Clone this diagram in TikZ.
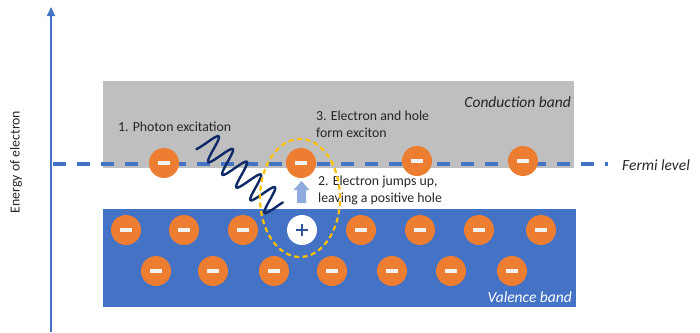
\documentclass[tikz,border=0pt]{standalone}
\usepackage{fontspec}
\setmainfont{Carlito}
\usetikzlibrary{arrows.meta,shapes.geometric}
\definecolor{axisblue}{HTML}{4472C4}
\definecolor{bandgrey}{HTML}{BFBFBF}
\definecolor{eorange}{HTML}{ED7D31}
\definecolor{barcol}{HTML}{F2F2F2}
\definecolor{plusblue}{HTML}{2F5597}
\definecolor{exyellow}{HTML}{FFC000}
\definecolor{arrowblue}{HTML}{8FAADC}
\definecolor{navywave}{HTML}{0E2A66}
\definecolor{txtcol}{HTML}{262626}
\begin{document}
\begin{tikzpicture}[x=1pt,y=-1pt,
  txt/.style={font=\fontsize{13.8}{17}\selectfont, text=txtcol, inner sep=0pt},
  itxt/.style={font=\fontsize{15.5}{17}\selectfont\itshape, text=txtcol, inner sep=0pt},
  band/.style={draw=none, inner sep=0pt, anchor=north west},
  elec/.style={circle, fill=eorange, minimum size=30pt, inner sep=0pt,
    path picture={\fill[barcol] ([xshift=-6pt,yshift=-2pt]path picture bounding box.center) rectangle ([xshift=6pt,yshift=2pt]path picture bounding box.center);}},
  hole/.style={circle, fill=white, minimum size=30pt, inner sep=0pt,
    path picture={\draw[plusblue, line width=1.6pt] ([xshift=-6pt]path picture bounding box.center) -- ([xshift=6pt]path picture bounding box.center)
      ([yshift=-6pt]path picture bounding box.center) -- ([yshift=6pt]path picture bounding box.center);}}
]
\useasboundingbox (0,0) rectangle (700,332);

% bands
\node[band, fill=bandgrey, minimum width=471pt, minimum height=87pt] (cb) at (103,81) {};
\node[band, fill=axisblue, minimum width=473pt, minimum height=98pt] (vb) at (103,209) {};

% axis
\coordinate (axbot) at (51,332);
\coordinate (axtop) at (51,7);
\draw[axisblue, line width=2pt, -{Triangle[length=9pt,width=8pt]}] (axbot) -- (axtop);

% Fermi level
\coordinate (fs) at (53,164);
\coordinate (fe) at (608,164);
\draw[axisblue, line width=3.5pt, dash pattern=on 13pt off 11pt] (fs) -- (fe);

% labels
\node[txt, rotate=90] (ylab) at (16,162) {Energy of electron};
\node[itxt, anchor=west] (flab) at (622,165) {Fermi level};
\node[itxt, anchor=east] (cblab) at (571,102) {Conduction band};
\node[itxt, anchor=east, text=white] (vblab) at (572,297) {Valence band};
\node[txt, anchor=west] (t1) at (118,127) {1. Photon excitation};
\node[txt, anchor=west, align=left] (t3) at (316,124.5) {3. Electron and hole\\form exciton};
\node[txt, anchor=west, align=left] (t2) at (318,190.5) {2. Electron jumps up,\\leaving a positive hole};

% conduction electrons
\node[elec] (c1) at (164,163) {};
\node[elec] (c2) at (301,163) {};
\node[elec] (c3) at (417,161) {};
\node[elec] (c4) at (523,161) {};

% valence electrons row 1
\node[elec] (v1) at (126,230) {};
\node[elec] (v2) at (184,230) {};
\node[elec] (v3) at (243,230) {};
\node[hole] (h) at (302,230) {};
\node[elec] (v5) at (361,230) {};
\node[elec] (v6) at (420,230) {};
\node[elec] (v7) at (479,230) {};
\node[elec] (v8) at (541,230) {};
% row 2
\node[elec] (w1) at (156,271) {};
\node[elec] (w2) at (213,271) {};
\node[elec] (w3) at (274,271) {};
\node[elec] (w4) at (332,271) {};
\node[elec] (w5) at (392,271) {};
\node[elec] (w6) at (451,271) {};
\node[elec] (w7) at (512,271) {};

% up arrow
\fill[arrowblue] (297,203) -- (297,190) -- (293.5,190) -- (301.5,181) -- (309.5,190) -- (306,190) -- (306,203) -- cycle;

% photon wave
\draw[navywave, line width=2.4pt, line join=round, line cap=round]
  plot[domain=-8:92, samples=220, smooth] ({210 + 0.74*\x + 8.71*cos(18.947*\x)}, {146 + 0.67*\x - 9.62*cos(18.947*\x)});

% exciton ellipse
\node[ellipse, draw=exyellow, line width=2.2pt, dash pattern=on 5pt off 3.5pt, minimum width=80pt, minimum height=118pt, inner sep=0pt] (exc) at (300,198) {};
\end{tikzpicture}
\end{document}
